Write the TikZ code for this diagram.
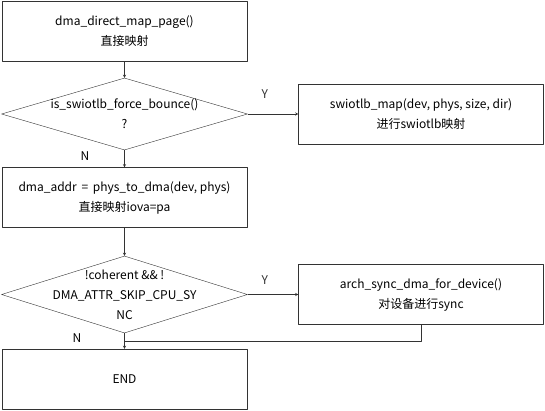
\documentclass[tikz,border=0pt]{standalone}
\usepackage{fontspec}
\setmainfont{Noto Sans CJK SC}
\usetikzlibrary{shapes.geometric}
\begin{document}
\begin{tikzpicture}[x=1pt, y=-1pt, font=\fontsize{12}{20}\selectfont, line join=round, >=stealth,
	box/.style={draw=black!80, minimum width=245pt, minimum height=60pt, align=center, inner sep=0pt},
	dec/.style={draw=black!80, diamond, minimum width=246pt, minimum height=#1, inner sep=0pt},
	flow/.style={->, black!80}]
	\useasboundingbox (0,0) rectangle (545,410);
	% main column
	\node[box] (map) at (124.5,31.5) {dma\_direct\_map\_page()\\直接映射};
	\node[dec=72pt] (force) at (124.5,114) {};
	\node[align=center] at (force) {is\_swiotlb\_force\_bounce()\\?};
	\node[box] (phys) at (124.5,197.5) {dma\_addr \,=\, phys\_to\_dma(dev, phys)\\直接映射iova=pa};
	\node[dec=77pt] (sync) at (124.5,294.5) {};
	\node[align=center] at (sync) {!coherent \&\& !\\DMA\_ATTR\_SKIP\_CPU\_SY\\NC};
	\node[box] (fin) at (124.5,379) {END};
	% right column
	\node[box] (tlb) at (421,114) {swiotlb\_map(dev, phys, size, dir)\\进行swiotlb映射};
	\node[box] (dev) at (421,294.5) {arch\_sync\_dma\_for\_device()\\对设备进行sync};
	\coordinate (join) at (124.5,341);
	% connectors
	\draw[flow] (map) -- (force);
	\draw[flow] (force) -- node[pos=.34, above=12pt]{Y} (tlb);
	\draw[flow] (force) -- (phys);
	\draw[flow] (phys) -- (sync);
	\draw[flow] (sync) -- node[pos=.34, above=6pt]{Y} (dev);
	\draw[flow] (sync) -- (fin);
	\draw[black!80] (dev.south) |- (join);
	\node at (85,156) {N};
	\node at (77,338) {N};
\end{tikzpicture}
\end{document}
